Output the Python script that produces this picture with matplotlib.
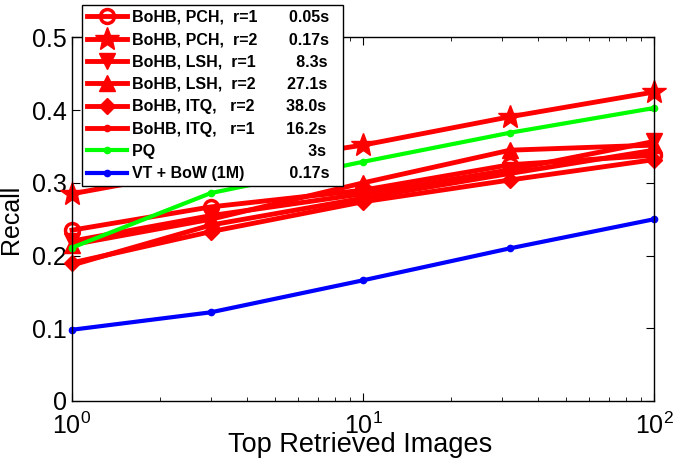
import matplotlib
matplotlib.use("Agg")
import matplotlib.pyplot as plt
from matplotlib.font_manager import FontProperties
from matplotlib.ticker import FixedLocator, FuncFormatter, LogLocator, NullFormatter

plt.rcParams['font.family'] = ['Liberation Sans', 'DejaVu Sans']
plt.rcParams['mathtext.fontset'] = 'custom'
plt.rcParams['mathtext.rm'] = 'Liberation Sans'
plt.rcParams['mathtext.it'] = 'Liberation Sans'

x_vals = [1, 3, 10, 32, 100]

pch_r1 = [0.235, 0.267, 0.290, 0.325, 0.338]
pch_r2 = [0.285, 0.320, 0.352, 0.391, 0.425]
lsh_r1 = [0.220, 0.255, 0.285, 0.318, 0.357]
lsh_r2 = [0.215, 0.250, 0.300, 0.345, 0.352]
itq_r2 = [0.190, 0.233, 0.274, 0.304, 0.332]
itq_r1 = [0.187, 0.242, 0.279, 0.313, 0.345]
pq = [0.211, 0.286, 0.329, 0.369, 0.403]
vt_bow = [0.098, 0.122, 0.166, 0.210, 0.250]

names = ["BoHB, PCH,  r=1", "BoHB, PCH,  r=2", "BoHB, LSH,  r=1", "BoHB, LSH,  r=2",
         "BoHB, ITQ,   r=2", "BoHB, ITQ,   r=1", "PQ", "VT + BoW (1M)"]
times = ["0.05s", "0.17s", "8.3s", "27.1s", "38.0s", "16.2s", "3s", "0.17s"]

y_ticks = [0, 0.1, 0.2, 0.3, 0.4, 0.5]

fig = plt.figure(figsize=(6.75, 4.59), dpi=100)
ax = fig.add_axes([72/675, 58/459, 582/675, 363.5/459])

series = [
    (pch_r1, dict(color='red', marker='o', ms=10, mfc='none', mew=2.5, lw=3.5)),
    (pch_r2, dict(color='red', marker='*', ms=18, lw=3.5)),
    (lsh_r1, dict(color='red', marker='v', ms=11, lw=3.5)),
    (lsh_r2, dict(color='red', marker='^', ms=11, lw=3.5)),
    (itq_r2, dict(color='red', marker='D', ms=8, lw=3.5)),
    (itq_r1, dict(color='red', marker='.', ms=9, lw=3.5)),
    (pq, dict(color=(0, 1, 0), marker='.', ms=9, lw=3)),
    (vt_bow, dict(color='blue', marker='.', ms=9, lw=3)),
]

handles = []
for vals, st in series:
    h, = ax.plot(x_vals, vals, clip_on=False, **st)
    handles.append(h)

ax.set_xscale('log')
ax.set_xlim(1, 100)
ax.set_ylim(0, 0.5)
ax.yaxis.set_major_locator(FixedLocator(y_ticks))
ax.yaxis.set_major_formatter(FuncFormatter(lambda v, p: '%g' % v))
ax.xaxis.set_major_locator(LogLocator(base=10))
ax.xaxis.set_minor_locator(LogLocator(base=10, subs=range(2, 10)))
ax.xaxis.set_minor_formatter(NullFormatter())
ax.tick_params(which='both', direction='in', top=True, right=True, labelsize=18)
ax.tick_params(which='major', length=6, width=0.8)
ax.tick_params(which='minor', length=3, width=0.6)
ax.tick_params(axis='x', which='major', pad=8)
for s in ax.spines.values():
    s.set_linewidth(1.0)

ax.set_ylabel('Recall', fontsize=18)
ax.yaxis.set_label_coords(-0.085, 0.5)
ax.set_xlabel('Top Retrieved Images', fontsize=19.5, va='top')
ax.xaxis.set_label_coords(0.495, -0.085)

# legend labels with right-aligned times
prop = FontProperties(family='Liberation Sans', weight='bold', size=11.5)
r = fig.canvas.get_renderer()
def tw(s):
    return r.get_text_width_height_descent(s, prop, ismath=False)[0]
sp = tw("a a") - tw("aa")
target = max(tw(n) for n in names) + 30 + max(tw(t) for t in times)
labels = []
for n, t in zip(names, times):
    k = max(1, int(round((target - tw(n) - tw(t)) / sp)))
    labels.append(n + " " * k + t + "\u00a0" * 2)

leg = fig.legend(handles, labels, loc='upper left', bbox_to_anchor=(82/675, 1 - 5/459),
                 prop=prop, handlelength=40 / (prop.get_size_in_points() * 100 / 72),
                 handletextpad=0.3, labelspacing=0.46,
                 borderpad=0.3, fancybox=False, framealpha=1, edgecolor='black',
                 borderaxespad=0)
leg.get_frame().set_linewidth(1.0)

fig.savefig('out.png', dpi=100)
